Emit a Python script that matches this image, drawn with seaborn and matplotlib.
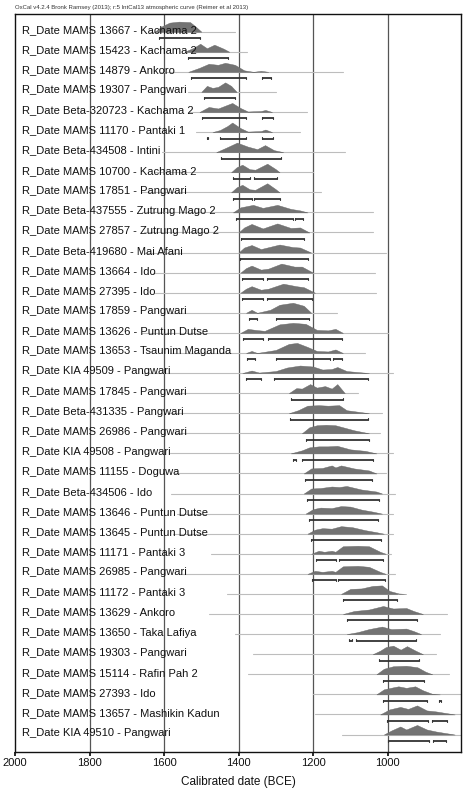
import matplotlib
matplotlib.use("Agg")
import matplotlib.pyplot as plt
import seaborn as sns
import numpy as np
import pandas as pd

labels = [
 "R_Date MAMS 13667 - Kachama 2", "R_Date MAMS 15423 - Kachama 2", "R_Date MAMS 14879 - Ankoro",
 "R_Date MAMS 19307 - Pangwari", "R_Date Beta-320723 - Kachama 2", "R_Date MAMS 11170 - Pantaki 1",
 "R_Date Beta-434508 - Intini", "R_Date MAMS 10700 - Kachama 2", "R_Date MAMS 17851 - Pangwari",
 "R_Date Beta-437555 - Zutrung Mago 2", "R_Date MAMS 27857 - Zutrung Mago 2", "R_Date Beta-419680 - Mai Afani",
 "R_Date MAMS 13664 - Ido", "R_Date MAMS 27395 - Ido", "R_Date MAMS 17859 - Pangwari",
 "R_Date MAMS 13626 - Puntun Dutse", "R_Date MAMS 13653 - Tsaunim Maganda", "R_Date KIA 49509 - Pangwari",
 "R_Date MAMS 17845 - Pangwari", "R_Date Beta-431335 - Pangwari", "R_Date MAMS 26986 - Pangwari",
 "R_Date KIA 49508 - Pangwari", "R_Date MAMS 11155 - Doguwa", "R_Date Beta-434506 - Ido",
 "R_Date MAMS 13646 - Puntun Dutse", "R_Date MAMS 13645 - Puntun Dutse", "R_Date MAMS 11171 - Pantaki 3",
 "R_Date MAMS 26985 - Pangwari", "R_Date MAMS 11172 - Pantaki 3", "R_Date MAMS 13629 - Ankoro",
 "R_Date MAMS 13650 - Taka Lafiya", "R_Date MAMS 19303 - Pangwari", "R_Date MAMS 15114 - Rafin Pah 2",
 "R_Date MAMS 27393 - Ido", "R_Date MAMS 13657 - Mashikin Kadun", "R_Date KIA 49510 - Pangwari",
]

# thin "prior/unmodelled" line extent (start, end) in BCE
line_ranges = [
 (1637, 1409), (1544, 1377), (1611, 1119), (1535, 1300), (1535, 1215), (1515, 1235),
 (1605, 1114), (1625, 1200), (1660, 1180), (1660, 1040), (1655, 1040), (1655, 1005),
 (1630, 1035), (1625, 1030), (1590, 1135), (1660, 1000), (1585, 1060), (1660, 985),
 (1570, 1080), (1590, 1015), (1570, 1020), (1585, 985), (1570, 1005), (1580, 980),
 (1565, 985), (1575, 985), (1475, 990), (1560, 980), (1430, 975), (1480, 840),
 (1410, 860), (1360, 870), (1375, 835), (1200, 803), (1195, 803), (1122, 803),
]

# posterior shapes: (year BCE, relative density) control points
shapes = [
 [(1625,0),(1605,.55),(1585,.9),(1560,1),(1530,.95),(1515,.5),(1500,0)],
 [(1545,0),(1520,.4),(1503,.8),(1485,.35),(1465,.7),(1440,.3),(1425,0)],
 [(1535,0),(1505,.4),(1480,.8),(1455,.7),(1436,.9),(1410,.7),(1385,.15),(1360,0),(1340,.1),(1320,0)],
 [(1500,0),(1485,.6),(1470,.4),(1455,.5),(1436,.95),(1420,.6),(1405,0)],
 [(1505,0),(1480,.5),(1455,.35),(1417,.9),(1395,.4),(1375,.05),(1340,.1),(1328,.2),(1310,0)],
 [(1470,0),(1450,.2),(1430,.6),(1417,.95),(1395,.4),(1375,.05),(1340,.1),(1328,.25),(1310,0)],
 [(1460,0),(1430,.5),(1404,.95),(1375,.55),(1350,.3),(1329,.7),(1305,.2),(1280,0)],
 [(1420,0),(1405,.5),(1390,.75),(1370,.3),(1355,.25),(1323,.85),(1300,.3),(1290,0)],
 [(1420,0),(1405,.5),(1390,.75),(1370,.3),(1355,.25),(1323,.9),(1300,.3),(1290,0)],
 [(1415,0),(1395,.5),(1361,.75),(1335,.45),(1296,.75),(1260,.35),(1235,.2),(1215,0)],
 [(1400,0),(1385,.5),(1365,.85),(1335,.4),(1296,.9),(1260,.45),(1235,.5),(1210,0)],
 [(1400,0),(1385,.5),(1365,.75),(1340,.35),(1290,.8),(1255,.55),(1235,.5),(1205,0)],
 [(1395,0),(1380,.45),(1365,.7),(1340,.3),(1320,.4),(1285,.9),(1250,.6),(1230,.6),(1200,0)],
 [(1395,0),(1380,.4),(1365,.65),(1340,.3),(1320,.4),(1280,.9),(1245,.65),(1225,.55),(1195,0)],
 [(1380,0),(1365,.3),(1350,0),(1315,.3),(1290,.8),(1254,1),(1225,.7),(1205,0)],
 [(1395,0),(1375,.4),(1355,.3),(1330,.2),(1290,.85),(1254,1),(1220,.9),(1190,.3),(1160,.25),(1140,.4),(1120,0)],
 [(1380,0),(1365,.2),(1350,0),(1300,.3),(1265,.9),(1243,1),(1215,.6),(1190,.2),(1160,.15),(1140,.35),(1120,0)],
 [(1390,0),(1365,.25),(1345,.05),(1300,.2),(1270,.55),(1235,.75),(1200,.65),(1175,.35),(1150,.4),(1135,.6),(1110,.2),(1050,0)],
 [(1265,0),(1245,.5),(1230,.45),(1208,.9),(1190,.55),(1168,.7),(1150,.45),(1135,.9),(1115,0)],
 [(1265,0),(1240,.3),(1215,.75),(1185,.8),(1160,.75),(1130,.8),(1110,.3),(1050,0)],
 [(1230,0),(1210,.6),(1190,.8),(1165,.85),(1140,.8),(1120,.6),(1090,.3),(1050,0)],
 [(1260,0),(1230,.3),(1210,.6),(1185,.7),(1160,.7),(1135,.75),(1100,.4),(1060,.25),(1030,0)],
 [(1225,0),(1205,.5),(1175,.55),(1150,.8),(1140,.6),(1125,.8),(1090,.5),(1050,.3),(1030,0)],
 [(1225,0),(1205,.5),(1180,.55),(1150,.7),(1130,.65),(1110,.75),(1070,.4),(1030,.2),(1015,0)],
 [(1220,0),(1200,.45),(1180,.6),(1150,.55),(1125,.75),(1100,.7),(1070,.4),(1040,.2),(1015,0)],
 [(1215,0),(1195,.4),(1175,.55),(1150,.5),(1125,.75),(1095,.65),(1060,.35),(1030,.15),(1010,0)],
 [(1205,0),(1185,.3),(1170,.2),(1150,.3),(1140,.2),(1120,.75),(1080,.8),(1050,.75),(1020,.2),(1005,0)],
 [(1215,0),(1195,.3),(1175,.2),(1150,.3),(1140,.2),(1120,.75),(1080,.8),(1050,.7),(1020,.2),(1005,0)],
 [(1125,0),(1100,.5),(1070,.55),(1040,.8),(1015,.85),(995,.3),(970,.05),(950,0)],
 [(1120,0),(1090,.3),(1050,.45),(1012,.8),(985,.55),(950,.6),(930,.3),(905,0)],
 [(1110,0),(1080,.2),(1050,.5),(1015,.75),(990,.5),(950,.55),(930,.3),(910,0)],
 [(1040,0),(1020,.35),(1005,.7),(985,.85),(965,.45),(948,.8),(925,.35),(905,0)],
 [(1030,0),(1010,.55),(985,.8),(950,.85),(920,.7),(898,.25),(880,0)],
 [(1030,0),(1010,.5),(985,.7),(971,.8),(950,.65),(926,.8),(905,.4),(880,.05),(860,0)],
 [(1020,0),(995,.5),(966,.75),(945,.55),(921,.9),(895,.4),(870,.3),(845,.15),(820,0)],
 [(1010,0),(990,.4),(966,.8),(950,.5),(921,.95),(895,.5),(870,.3),(845,.15),(820,0)],
]

# highest posterior density ranges (start, end) per row
hpd = [
 [(1613,1503)], [(1535,1428)], [(1527,1380),(1337,1313)], [(1492,1409)],
 [(1498,1380),(1337,1307)], [(1486,1482),(1450,1380),(1337,1307)],
 [(1447,1286)], [(1415,1369),(1358,1296)], [(1415,1364),(1358,1290)],
 [(1407,1254),(1248,1227)], [(1393,1224)], [(1396,1213)],
 [(1390,1334),(1323,1213)], [(1390,1334),(1323,1202)], [(1372,1350),(1299,1211)],
 [(1388,1334),(1321,1122)], [(1378,1355),(1299,1154),(1146,1122)], [(1380,1340),(1305,1052)],
 [(1259,1120)], [(1262,1052)], [(1219,1049)],
 [(1254,1246),(1230,1039)], [(1221,1043)], [(1216,1023)],
 [(1211,1026)], [(1205,1018)], [(1192,1138),(1130,1012)],
 [(1203,1138),(1133,1007)], [(1119,974)], [(1109,921)],
 [(1103,1095),(1084,923)], [(1023,915)], [(1012,902)],
 [(1012,894),(861,857)], [(1001,891),(880,840)], [(999,888),(877,842)],
]

sns.set_theme(style="white")
plt.rcParams['font.family'] = ['Liberation Sans', 'DejaVu Sans']

fig = plt.figure(figsize=(4.74, 7.92), dpi=100)
ax = fig.add_axes([15/474, 40/792, 446/474, 738/792])

H = 0.5
rows = []
for i, (a, b) in enumerate(line_ranges):
    rows += [dict(year=a, y=i + 0.08, r=i), dict(year=b, y=i + 0.08, r=i)]
sns.lineplot(data=pd.DataFrame(rows), x="year", y="y", units="r", estimator=None,
             color="#bdbdbd", lw=0.8, ax=ax, sort=False)

for i, pts in enumerate(shapes):
    xs = np.array([p[0] for p in pts], float)
    hs = np.array([p[1] for p in pts], float)
    ax.fill_between(xs, i + 0.08, i + 0.08 - hs * H, color="#737373", lw=0.3, edgecolor="#666666", zorder=3)
    for a, b in hpd[i]:
        ax.plot([a, b], [i + 0.4, i + 0.4], color="#333333", lw=1.3, zorder=3,
                solid_capstyle="butt")
        for e in (a, b):
            ax.plot([e, e], [i + 0.34, i + 0.44], color="#333333", lw=0.8, zorder=3)
    ax.text(1981, i, labels[i], fontsize=8, va="center", ha="left", color="#111111", zorder=4)

for g in [1800, 1600, 1400, 1200, 1000]:
    ax.axvline(g, color="#555555", lw=0.9, zorder=1)

ax.set_xlim(2000, 803)
ax.set_ylim(35.95, -0.8)
ax.set_yticks([])
ax.set_xticks([2000, 1800, 1600, 1400, 1200, 1000])
ax.tick_params(axis="x", labelsize=8, length=3, pad=1, colors="#111111", bottom=True)
ax.set_xlabel("Calibrated date (BCE)", fontsize=8.5, labelpad=6, color="#111111")
ax.set_ylabel("")
for s in ax.spines.values():
    s.set_color("#111111")
    s.set_linewidth(1.0)
fig.text(15/474, 1 - 7/792, "OxCal v4.2.4 Bronk Ramsey (2013); r:5 IntCal13 atmospheric curve (Reimer et al 2013)",
         fontsize=4.3, va="center", ha="left", color="#333333")
fig.savefig("out.png", dpi=100)
